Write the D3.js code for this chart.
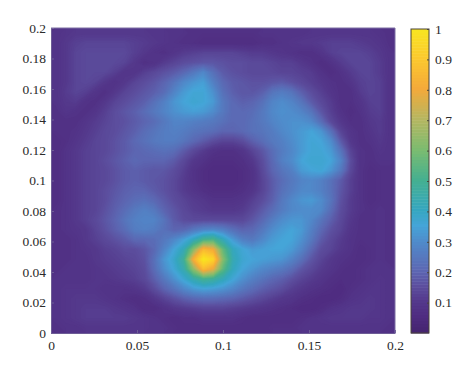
<!DOCTYPE html>
<html>
<head>
<meta charset="utf-8">
<script src="https://cdn.jsdelivr.net/npm/d3@7"></script>
<style>
  html, body { margin: 0; padding: 0; background: #fff; }
  svg { display: block; }
</style>
</head>
<body>
<svg></svg>
<script>
// values, in percent of the colorbar, top row first
const heat_rows = [
  [8,9,10,10,10,10,10,10,10,10,9,9,8,8,7,7,7,7,7,7,7,8,8,8,8,8,9,9,9,9,9,9,9,8,7],
  [8,10,12,13,13,13,13,13,12,11,10,9,8,7,7,6,6,6,6,6,6,7,7,8,9,10,10,11,12,12,12,11,10,9,7],
  [8,10,13,14,14,14,14,14,12,10,8,7,9,11,12,13,13,13,13,12,11,11,10,9,8,7,7,9,12,13,13,13,12,10,8],
  [8,10,13,14,14,14,14,13,10,7,8,11,13,15,16,17,17,16,15,15,14,14,13,12,12,10,8,6,8,11,13,13,13,11,8],
  [8,10,13,14,14,14,12,9,9,12,14,16,18,21,25,29,23,18,16,15,14,14,14,13,13,12,11,8,6,8,11,13,13,11,8],
  [8,10,13,14,13,10,8,10,13,15,17,20,24,29,32,34,27,21,18,17,16,16,17,18,16,14,12,10,8,7,9,12,13,12,8],
  [8,11,13,12,9,7,10,13,15,17,19,22,28,33,36,36,31,23,19,17,17,19,24,26,24,19,15,12,9,7,7,11,13,12,8],
  [8,10,11,8,7,10,13,15,17,19,23,27,32,35,37,36,33,25,21,19,20,23,28,30,28,24,18,14,11,7,7,9,12,12,8],
  [7,9,8,7,9,12,15,17,19,22,25,28,31,33,34,33,30,25,21,21,22,25,29,31,30,28,24,17,12,8,6,8,11,12,8],
  [7,7,7,9,11,13,15,16,18,20,22,25,28,28,27,26,25,23,21,21,23,25,28,30,31,31,29,22,14,10,7,7,10,11,8],
  [7,7,8,10,12,14,15,17,19,22,24,26,27,26,24,23,22,20,20,21,23,24,26,29,31,33,35,32,23,13,9,7,9,11,8],
  [6,7,9,11,13,14,16,18,21,23,25,26,26,24,21,18,15,13,13,15,19,22,25,27,30,33,36,35,30,18,10,7,8,10,8],
  [6,8,10,12,13,14,16,18,20,21,22,23,22,18,14,11,8,7,7,9,13,17,22,26,29,33,36,36,33,24,13,8,7,9,8],
  [6,8,10,12,13,15,17,19,21,20,20,20,18,14,10,8,6,6,6,7,10,15,21,27,30,35,37,37,35,28,15,8,7,8,8],
  [6,8,10,12,13,14,16,18,19,18,17,17,15,12,8,6,5,5,5,6,8,14,20,24,27,33,35,36,32,25,14,8,6,7,7],
  [6,8,10,12,13,14,16,18,19,18,17,16,14,11,8,6,5,5,5,6,8,13,18,22,25,28,29,27,23,18,12,8,6,7,7],
  [6,8,10,12,13,15,17,19,20,20,18,16,14,11,9,7,6,6,6,7,9,13,18,23,26,29,29,27,23,17,12,8,6,7,7],
  [6,8,10,12,13,15,18,20,22,23,21,18,15,13,11,10,8,8,8,9,12,15,19,25,29,32,33,30,24,16,11,8,6,7,7],
  [7,8,10,12,13,16,19,22,25,27,25,20,17,14,12,11,10,10,10,11,14,18,22,26,29,30,30,29,22,15,11,8,7,8,7],
  [7,8,10,12,14,17,20,24,27,28,28,24,18,15,14,14,14,14,14,14,17,21,26,30,32,32,29,24,19,14,10,7,7,8,7],
  [7,8,9,10,13,16,19,22,26,27,26,23,20,21,25,28,29,27,23,20,21,25,30,33,35,33,27,21,16,13,9,7,7,8,7],
  [7,7,8,10,12,14,16,18,21,21,22,25,29,34,41,50,52,42,33,27,25,29,33,35,35,31,25,18,14,11,8,7,7,8,7],
  [7,7,8,9,10,12,13,15,15,17,21,28,35,42,62,85,80,56,41,36,33,34,35,35,33,28,21,15,13,10,8,6,7,8,7],
  [7,7,8,8,10,11,12,13,14,16,23,32,38,48,82,100,94,62,43,37,35,34,33,32,28,23,17,13,10,8,7,6,7,8,7],
  [7,8,8,8,9,10,11,12,13,15,22,30,36,44,64,86,78,55,41,35,32,29,27,25,22,17,14,11,9,7,6,7,8,8,8],
  [8,8,8,8,9,9,10,11,12,14,19,25,31,37,44,50,48,42,36,31,27,24,21,19,16,13,11,9,7,6,6,7,8,9,8],
  [8,9,9,9,9,8,8,8,9,11,15,20,24,29,33,35,34,32,29,25,22,19,17,15,12,10,8,7,6,5,7,8,9,9,8],
  [8,9,10,10,10,9,8,7,6,7,10,13,16,19,21,22,22,21,20,18,16,14,12,10,9,7,6,5,5,6,8,9,10,9,8],
  [8,9,10,11,11,11,10,9,8,6,6,8,10,11,12,13,13,13,12,11,10,9,8,7,6,5,5,6,8,9,10,10,10,9,8],
  [8,9,10,11,11,11,11,11,10,9,8,7,6,7,7,8,8,8,8,7,6,6,6,6,6,7,8,9,10,10,10,10,9,9,8],
  [7,8,8,9,9,9,9,9,9,9,8,8,7,6,6,6,6,6,6,6,6,6,7,7,7,8,8,8,8,8,8,8,8,8,7]
]

const x_ticks = [0, 0.05, 0.1, 0.15, 0.2]
const y_ticks = [0, 0.02, 0.04, 0.06, 0.08, 0.1, 0.12, 0.14, 0.16, 0.18, 0.2]
const bar_ticks = [0.1, 0.2, 0.3, 0.4, 0.5, 0.6, 0.7, 0.8, 0.9, 1]

const color_stops = [0, 0.05, 0.1, 0.15, 0.2, 0.3, 0.35, 0.4, 0.5, 0.6, 0.7, 0.8, 0.9, 1]
const color_values = ['#45256f', '#4f2c81', '#54398c', '#5c4e9e', '#5c66b2', '#4f8dcc', '#45a5d8',
    '#35a6c0', '#45b090', '#7cbc70', '#b6b660', '#f4aa3a', '#fcc92e', '#f8e71f']

const
    svgWidth = 474,
    svgHeight = 377,
    LEFT = 51,
    RIGHT = 395,
    TOP = 28,
    BOTTOM = 333,
    BAR_LEFT = 411,
    BAR_RIGHT = 429,
    BAR_TOP = 29

const n_cols = heat_rows[0].length
const n_rows = heat_rows.length
heat_rows.forEach((r, i) => { if (r.length !== n_cols) throw new Error('row ' + i + ' has ' + r.length) })

let svg = d3.select('svg')
    .attr('width', svgWidth)
    .attr('height', svgHeight)

let x_scale = d3.scaleLinear().domain([0, 0.2]).range([LEFT, RIGHT])
let y_scale = d3.scaleLinear().domain([0, 0.2]).range([BOTTOM, TOP])
let color = d3.scaleLinear().domain(color_stops).range(color_values).clamp(true)

// grid coordinates of d3.contours -> pixels
let col_scale = d3.scaleLinear().domain([0, n_cols]).range([LEFT, RIGHT])
let row_scale = d3.scaleLinear().domain([0, n_rows]).range([TOP, BOTTOM])
let grid_path = d3.geoPath(d3.geoTransform({
    point: function (x, y) { this.stream.point(col_scale(x), row_scale(y)) }
}))

let contours = d3.contours()
    .size([n_cols, n_rows])
    .thresholds(d3.range(0, 100, 0.5))(heat_rows.flat())

// contours cut the corners of the grid, so lay a plain background under them
svg.append('rect')
    .attr('x', LEFT)
    .attr('y', TOP)
    .attr('width', RIGHT - LEFT)
    .attr('height', BOTTOM - TOP)
    .attr('fill', color(0.07))

svg.append('g')
    .selectAll('path')
    .data(contours)
    .enter()
    .append('path')
        .attr('d', grid_path)
        .attr('fill', d => color(d.value / 100))

let x_axis = d3.axisBottom(x_scale).tickValues(x_ticks).tickFormat(d3.format('~g')).tickSizeInner(-3).tickSizeOuter(0).tickPadding(7)
let y_axis = d3.axisLeft(y_scale).tickValues(y_ticks).tickFormat(d3.format('~g')).tickSizeInner(-3).tickSizeOuter(0).tickPadding(5)

svg.append('g')
    .attr('transform', `translate(0, ${BOTTOM})`)
    .call(x_axis)
    .call(g => g.selectAll('line,path').attr('stroke', '#6d5c96'))

svg.append('g')
    .attr('transform', `translate(${LEFT}, 0)`)
    .call(y_axis)
    .call(g => g.selectAll('line,path').attr('stroke', '#6d5c96'))

// box top and right
svg.append('path')
    .attr('d', d3.line()([[LEFT, TOP], [RIGHT, TOP], [RIGHT, BOTTOM]]))
    .attr('fill', 'none')
    .attr('stroke', '#7d6ea3')

// colorbar
let bar_scale = d3.scaleLinear().domain([0, 1]).range([BOTTOM, BAR_TOP])
let bar_values = d3.range(0, 100).map(d => d / 100)

svg.append('g')
    .selectAll('rect')
    .data(bar_values)
    .enter()
    .append('rect')
        .attr('x', BAR_LEFT)
        .attr('width', BAR_RIGHT - BAR_LEFT)
        .attr('y', d => bar_scale(d + 0.01))
        .attr('height', d => bar_scale(d) - bar_scale(d + 0.01) + 0.5)
        .attr('fill', d => color(d))

svg.append('rect')
    .attr('x', BAR_LEFT)
    .attr('y', BAR_TOP)
    .attr('width', BAR_RIGHT - BAR_LEFT)
    .attr('height', BOTTOM - BAR_TOP)
    .attr('fill', 'none')
    .attr('stroke', '#4a4438')

let bar_axis = d3.axisRight(bar_scale).tickValues(bar_ticks).tickFormat(d3.format('~g')).tickSizeInner(-2).tickSizeOuter(0).tickPadding(6)

svg.append('g')
    .attr('transform', `translate(${BAR_RIGHT}, 0)`)
    .call(bar_axis)
    .call(g => g.select('.domain').remove())
    .call(g => g.selectAll('line').attr('stroke', '#4a4438'))

svg.selectAll('text').style('font-family', '"Liberation Serif", serif').style('font-size', '13.5px').attr('fill', '#2b2b2b')
</script>
</body>
</html>
